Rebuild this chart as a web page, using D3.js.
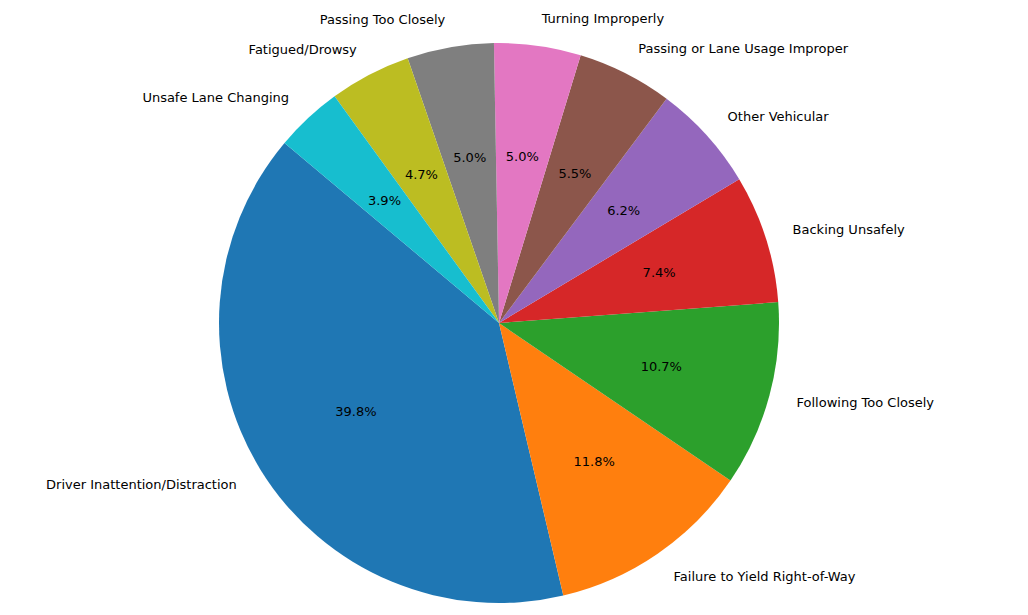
<!DOCTYPE html>
<html>
<head>
<meta charset="utf-8">
<script src="https://cdn.jsdelivr.net/npm/d3@7"></script>
<style>body{margin:0;background:#fff}</style>
</head>
<body>
<script>
var causes = ['Driver Inattention/Distraction','Failure to Yield Right-of-Way','Following Too Closely',
	'Backing Unsafely','Other Vehicular','Passing or Lane Usage Improper','Turning Improperly',
	'Passing Too Closely','Fatigued/Drowsy','Unsafe Lane Changing'];
var shares = [39.8, 11.8, 10.7, 7.4, 6.2, 5.5, 5.0, 5.0, 4.7, 3.9];
var colors = ['#1f77b4','#ff7f0e','#2ca02c','#d62728','#9467bd','#8c564b','#e377c2','#7f7f7f','#bcbd22','#17becf'];

var W = 1028, H = 615, cx = 499, cy = 323, r = 280;
var svg = d3.select('body').append('svg').attr('width', W).attr('height', H);
var g = svg.append('g').attr('transform', 'translate(' + cx + ',' + cy + ')');

// matplotlib startangle=140, counterclockwise
var start = Math.PI / 2 - 140 * Math.PI / 180;
var pie = d3.pie().sort(null).startAngle(start).endAngle(start - 2 * Math.PI);
var arcs = pie(shares);
var arc = d3.arc().innerRadius(0).outerRadius(r);

g.selectAll('path').data(arcs).enter().append('path')
	.attr('d', arc)
	.attr('fill', function(d, i){ return colors[i]; });

function pos(d, k){
	var a = (d.startAngle + d.endAngle) / 2;
	return [Math.sin(a) * r * k, -Math.cos(a) * r * k];
}

g.selectAll('text.lab').data(arcs).enter().append('text')
	.attr('class', 'lab')
	.attr('x', function(d){ return pos(d, 1.1)[0]; })
	.attr('y', function(d){ return pos(d, 1.1)[1]; })
	.attr('dy', '0.35em')
	.attr('text-anchor', function(d){ return pos(d, 1.1)[0] < 0 ? 'end' : 'start'; })
	.style('font', '13px "DejaVu Sans"')
	.text(function(d, i){ return causes[i]; });

g.selectAll('text.pct').data(arcs).enter().append('text')
	.attr('class', 'pct')
	.attr('x', function(d){ return pos(d, 0.6)[0]; })
	.attr('y', function(d){ return pos(d, 0.6)[1]; })
	.attr('dy', '0.35em')
	.attr('text-anchor', 'middle')
	.style('font', '13px "DejaVu Sans"')
	.text(function(d){ return d.data.toFixed(1) + '%'; });
</script>
</body>
</html>
